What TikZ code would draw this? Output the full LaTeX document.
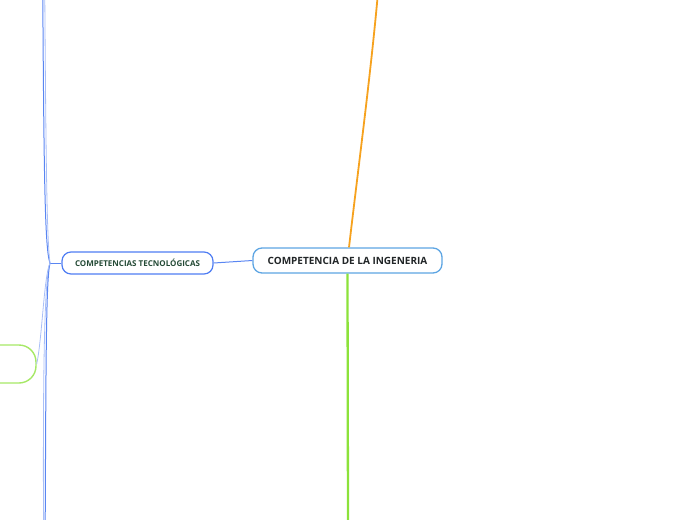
\documentclass[tikz,border=0pt]{standalone}
\usepackage{fontspec}
\setmainfont{Open Sans}
\definecolor{mainblue}{HTML}{5DA5E3}
\definecolor{techblue}{HTML}{4F7DF3}
\definecolor{linkblue}{HTML}{5A86F2}
\definecolor{paleblue}{HTML}{A9BFF7}
\definecolor{orangeln}{HTML}{F6A21E}
\definecolor{greenln}{HTML}{8CE23A}
\definecolor{greenbox}{HTML}{A6E866}
\definecolor{darktext}{HTML}{222628}
\definecolor{techtext}{HTML}{244A36}
\tikzset{
  mainbox/.style={draw=mainblue, line width=1.3pt, rounded corners=9pt, fill=white,
    minimum width=189pt, minimum height=25pt, inner sep=0pt,
    font=\fontsize{10}{12}\selectfont\bfseries, text=darktext},
  techbox/.style={draw=techblue, line width=1.2pt, rounded corners=9pt, fill=white,
    minimum width=151pt, minimum height=22pt, inner sep=0pt,
    font=\fontsize{8}{10}\selectfont\bfseries, text=techtext},
  greenboxst/.style={draw=greenbox, line width=1.4pt, rounded corners=17pt, fill=white,
    minimum width=90pt, minimum height=38pt, inner sep=0pt},
  bluelink/.style={draw=linkblue, line width=1pt},
  palelink/.style={draw=paleblue, line width=0.8pt},
}
\begin{document}
\begin{tikzpicture}[x=1pt,y=-1pt]
\useasboundingbox (0,0) rectangle (697,520);
\clip (0,0) rectangle (697,520);
\coordinate (otop) at (377.5,-2);
\coordinate (gbot) at (348,522);
\coordinate (jn) at (50,263);
\coordinate (ltopa) at (42.8,-2);
\coordinate (ltopb) at (44.8,-2);
\coordinate (lbota) at (43.5,522);
\coordinate (lbotb) at (45.2,522);
\node[mainbox] (main) at (347.5,260.5) {COMPETENCIA DE LA INGENERIA};
\node[techbox] (tech) at (137.5,263) {COMPETENCIAS TECNOLÓGICAS};
\draw[orangeln, line width=1.8pt] (main.north) ++(1.5,0) coordinate (ostart) (ostart) .. controls (358,170) and (370,80) .. (otop);
\draw[greenln, line width=2.3pt] (main.south) -- (gbot);
\draw[bluelink] (main.west) -- (tech.east);
\draw[bluelink] (tech.west) -- (jn);
% left fan
\draw[bluelink] (jn) .. controls (45,250) and (44,180) .. (ltopa);
\draw[palelink] (jn) .. controls (47,240) and (46,170) .. (ltopb);
\draw[palelink] (jn) .. controls (44,280) and (43,380) .. (lbota);
\draw[bluelink] (jn) .. controls (46,280) and (46,360) .. (lbotb);
% green child node on the left (cut by the frame)
\node[greenboxst] (gnode) at (-9,364) {};
\draw[palelink] (jn) .. controls (44,275) and (42,340) .. (gnode.east);
\end{tikzpicture}
\end{document}
